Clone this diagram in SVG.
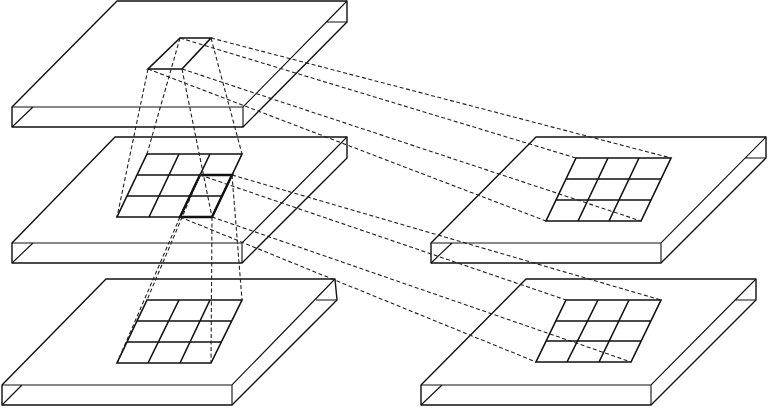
<svg xmlns="http://www.w3.org/2000/svg" width="768" height="411" viewBox="0 0 768 411">
<style>
.s{fill:#fff;stroke:#111;stroke-width:1.4;stroke-linejoin:round}
.e{fill:none;stroke:#111;stroke-width:1.1}
.g{fill:none;stroke:#111;stroke-width:1.6}
.d{fill:none;stroke:#222;stroke-width:1.1;stroke-dasharray:4 2.5}
.b{fill:none;stroke:#111;stroke-width:2.4}
</style>
<rect width="768" height="411" fill="#fff"/>
<g id="slab-top-left">
<path class="s" d="M117,1 L347,1 L347,22 L243,127 L12,127 L12,107 Z"/>
<path class="e" d="M12,107 L243,107 L347,1 M243,107 L243,127 M12,127 L33,107 M347,22 L326,22"/>
<path class="g" d="M180,38 L211,38 L182,69 L148,69 Z"/>
</g>
<g id="slab-mid-left">
<path class="s" d="M115,137 L347,137 L347,158 L242,263 L12,263 L12,243 Z"/>
<path class="e" d="M12,243 L242,243 L347,137 M242,243 L242,263 M12,263 L33,243"/>
<path class="g" d="M147,154 L242,154 L212,217 L117,217 Z M179,154 L149,217 M210,154 L180,217 M137,175 L232,175 M127,196 L222,196"/>
<path class="b" d="M200,175 L232,175 L212,217 L180,217 Z"/>
</g>
<g id="slab-bottom-left">
<path class="s" d="M106,279 L335,279 L337,300 L232,405 L2,405 L2,385 Z"/>
<path class="e" d="M2,385 L232,385 L335,279 M232,385 L232,405 M2,405 L22,385 M337,300 L316,300"/>
<path class="g" d="M147,300 L242,300 L211,363 L117,363 Z M179,300 L148,363 M210,300 L180,363 M137,321 L232,321 M127,342 L222,342"/>
</g>
<g id="slab-mid-right">
<path class="s" d="M536,137 L766,137 L766,158 L661,263 L431,263 L431,243 Z"/>
<path class="e" d="M431,243 L661,243 L766,137 M661,243 L661,263 M431,263 L452,243 M766,158 L745,158"/>
<path class="g" d="M576,158 L671,158 L641,221 L546,221 Z M608,158 L578,221 M639,158 L609,221 M566,179 L661,179 M556,200 L651,200"/>
</g>
<g id="slab-bottom-right">
<path class="s" d="M526,279 L756,279 L756,300 L651,405 L421,405 L421,385 Z"/>
<path class="e" d="M421,385 L651,385 L756,279 M651,385 L651,405 M421,405 L442,385 M756,300 L735,300"/>
<path class="g" d="M566,300 L661,300 L631,362 L536,362 Z M598,300 L567,362 M629,300 L599,362 M556,321 L651,321 M546,341 L641,341"/>
</g>
<g id="connectors">
<path class="d" d="M148,69 L117,217 M180,38 L147,154 M182,69 L212,217 M211,38 L242,154"/>
<path class="d" d="M211,38 L671,158 M180,38 L576,158 M182,69 L641,221 M148,69 L546,221"/>
<path class="d" d="M180,217 L117,363 M200,175 L147,300 M232,175 L242,300 M212,217 L211,363"/>
<path class="d" d="M200,175 L566,300 M232,175 L661,300 M212,217 L631,362 M180,217 L536,362"/>
</g>
</svg>
